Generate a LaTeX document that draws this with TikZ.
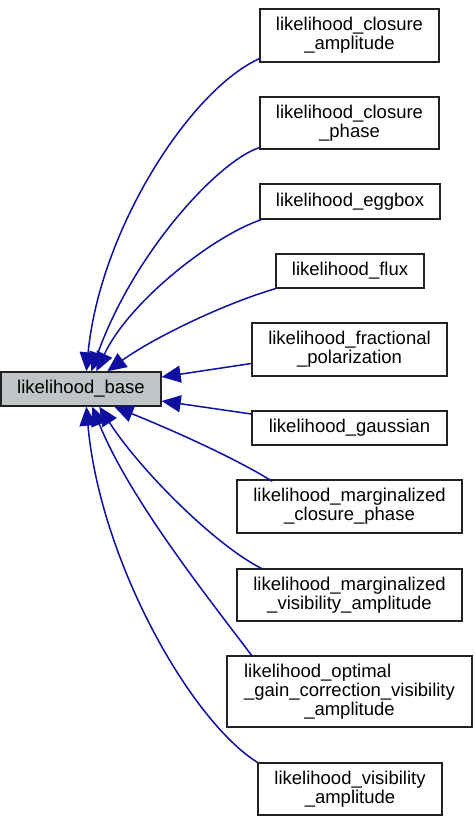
\documentclass[tikz,border=0pt]{standalone}
\usepackage{fontspec}
\setmainfont{Liberation Sans}
\usetikzlibrary{arrows.meta,calc}
\definecolor{edgeblue}{RGB}{16,16,160}
\definecolor{basefill}{RGB}{191,196,198}
\definecolor{boxline}{RGB}{34,34,34}
\tikzset{
  cls/.style={draw=boxline, line width=1.4pt, fill=white, inner sep=0pt, align=center,
    font=\fontsize{18.5}{19}\selectfont},
  basecls/.style={cls, fill=basefill},
  edge/.style={draw=edgeblue, line width=1.5pt, -{Triangle[length=19pt,width=17pt]}, fill=none},
}
\begin{document}
\begin{tikzpicture}[x=1pt,y=-1pt]
\useasboundingbox (0,0) rectangle (474,818);
\node[basecls, minimum width=160pt, minimum height=34pt] (base) at (81,389) {likelihood\_base};
\node[cls, minimum width=179pt, minimum height=53pt] (n1) at (349.5,35.5) {likelihood\_closure\\\_amplitude};
\node[cls, minimum width=179pt, minimum height=52pt] (n2) at (349.5,123) {likelihood\_closure\\\_phase};
\node[cls, minimum width=180pt, minimum height=35pt] (n3) at (350,201.5) {likelihood\_eggbox};
\node[cls, minimum width=148pt, minimum height=34pt] (n4) at (350,271) {likelihood\_flux};
\node[cls, minimum width=195pt, minimum height=53pt] (n5) at (349.5,349.5) {likelihood\_fractional\\\_polarization};
\node[cls, minimum width=195pt, minimum height=34pt] (n6) at (349.5,428) {likelihood\_gaussian};
\node[cls, minimum width=225pt, minimum height=53pt] (n7) at (349.5,506.5) {likelihood\_marginalized\\\_closure\_phase};
\node[cls, minimum width=225pt, minimum height=52pt] (n8) at (349.5,595) {likelihood\_marginalized\\\_visibility\_amplitude};
\node[cls, minimum width=245pt, minimum height=71pt] (n9) at (349.5,691.5) {\rlap{likelihood\_optimal}\phantom{\_gain\_correction\_visibility}\\\_gain\_correction\_visibility\\\_amplitude};
\node[cls, minimum width=184pt, minimum height=52pt] (n10) at (350,789) {likelihood\_visibility\\\_amplitude};

\coordinate (s1) at ($(n1.south west)+(0,-4)$);
\coordinate (s2) at ($(n2.south west)+(0,-2)$);
\coordinate (s3) at ($(n3.south west)+(2,0)$);
\coordinate (s5) at ($(n5.west)+(0,14)$);
\coordinate (s6) at ($(n6.west)+(0,-14)$);
\coordinate (s7) at ($(n7.north west)+(36,2)$);
\coordinate (s8) at ($(n8.north west)+(25,0)$);
\coordinate (s9) at ($(n9.north west)+(26,1)$);
\coordinate (s10) at ($(n10.north west)$);

\draw[edge] (s1) .. controls (190,90) and (100,230) .. ($(base.north west)+(86,0)$);
\draw[edge] (s2) .. controls (220,160) and (135,250) .. ($(base.north west)+(91,0)$);
\draw[edge] (s3) .. controls (215,235) and (130,300) .. ($(base.north west)+(96,0)$);
\draw[edge] (n4.south west) .. controls (220,305) and (150,340) .. ($(base.north west)+(107,0)$);
\draw[edge] (s5) -- ($(base.east)+(0,-12)$);
\draw[edge] (s6) -- ($(base.east)+(0,12)$);
\draw[edge] (s7) .. controls (230,455) and (160,425) .. ($(base.south west)+(114,0)$);
\draw[edge] (s8) .. controls (215,545) and (140,470) .. ($(base.south west)+(99,0)$);
\draw[edge] (s9) .. controls (210,600) and (130,500) .. ($(base.south west)+(92,0)$);
\draw[edge] (s10) .. controls (190,720) and (100,560) .. ($(base.south west)+(86,0)$);
\end{tikzpicture}
\end{document}
